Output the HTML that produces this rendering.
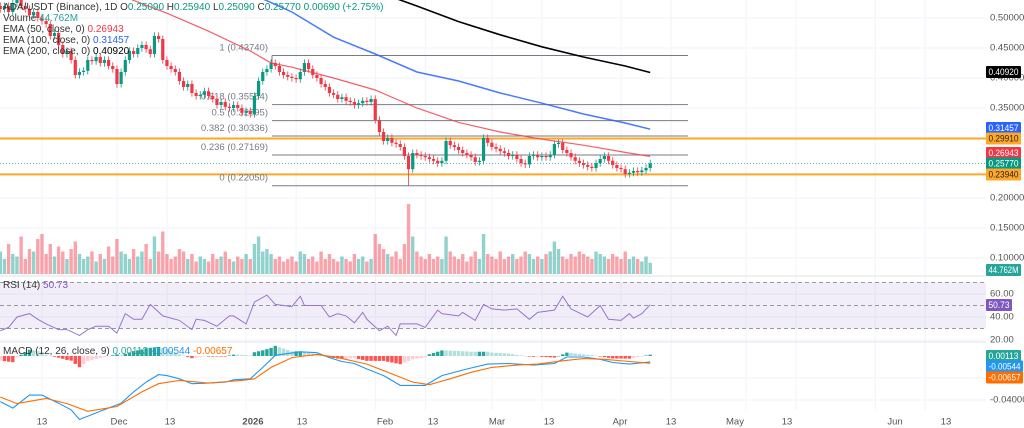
<!DOCTYPE html>
<html><head><meta charset="utf-8">
<style>
html,body{margin:0;padding:0;background:#fff;}
svg{display:block;font-family:"Liberation Sans",sans-serif;}
</style></head>
<body>
<svg id="c" width="1024" height="428" viewBox="0 0 1024 428" xmlns="http://www.w3.org/2000/svg"></svg>
<script>
const closes=[0.515,0.52,0.51,0.525,0.53,0.52,0.515,0.505,0.51,0.50,
0.495,0.49,0.47,0.475,0.455,0.44,0.445,0.43,0.405,0.41,
0.412,0.43,0.428,0.435,0.425,0.43,0.42,0.415,0.39,0.41,
0.43,0.445,0.44,0.45,0.455,0.448,0.44,0.47,0.465,0.43,
0.42,0.415,0.41,0.395,0.385,0.39,0.375,0.37,0.372,0.378,
0.37,0.365,0.355,0.36,0.352,0.35,0.355,0.35,0.342,0.345,
0.34,0.37,0.395,0.41,0.415,0.425,0.42,0.41,0.405,0.402,
0.40,0.398,0.41,0.425,0.415,0.405,0.40,0.39,0.385,0.375,
0.372,0.365,0.368,0.362,0.36,0.355,0.358,0.362,0.36,0.365,
0.33,0.31,0.295,0.30,0.292,0.29,0.285,0.27,0.248,0.275,
0.272,0.27,0.268,0.265,0.262,0.258,0.262,0.295,0.288,0.285,
0.28,0.275,0.272,0.268,0.26,0.262,0.30,0.292,0.285,0.282,
0.278,0.275,0.27,0.272,0.265,0.258,0.256,0.27,0.272,0.268,
0.27,0.268,0.272,0.29,0.292,0.28,0.275,0.268,0.262,0.258,
0.255,0.252,0.25,0.258,0.265,0.27,0.262,0.255,0.25,0.248,
0.24,0.242,0.245,0.243,0.246,0.25,0.2577];
const lows98=0.2205;
const volumes=[90,60,120,80,70,150,60,100,90,140,
160,80,120,70,110,90,60,100,130,80,
60,70,90,50,80,60,110,70,140,90,
80,60,100,70,90,120,60,150,90,170,
80,60,70,100,90,60,80,50,70,60,
50,80,60,70,90,60,50,70,60,80,
60,120,150,90,100,80,60,70,50,60,
70,50,90,80,60,70,50,90,60,80,
60,50,70,60,50,80,60,70,50,60,
160,120,100,80,70,90,60,120,280,150,
90,70,60,80,60,70,60,150,90,70,
60,80,50,70,90,60,160,80,70,60,
90,60,70,80,60,70,90,80,60,70,
60,80,90,130,100,70,60,80,70,90,
80,70,60,90,80,70,60,80,70,60,
90,60,70,60,50,70,45];
const emaIdx50=[28,40,50,60,65,70,80,90,100,110,120,130,140,150,156];
const ema50=[0.54,0.508,0.478,0.445,0.425,0.418,0.40,0.38,0.35,0.326,0.31,0.298,0.288,0.276,0.2694];
const emaIdx100=[62,70,80,90,100,110,120,130,140,150,156];
const ema100=[0.535,0.51,0.468,0.44,0.41,0.395,0.375,0.358,0.34,0.325,0.3146];
const emaIdx200=[94,100,110,120,130,140,150,156];
const ema200=[0.535,0.52,0.494,0.472,0.452,0.435,0.42,0.4092];
const fibLevels=[1,0.618,0.5,0.382,0.236,0];
const fibPrices=[0.4374,0.35554,0.32895,0.30336,0.27169,0.2205];
const rsiIdx=[0,2,4,7,9,11,14,16,19,21,23,26,28,30,32,34,36,39,43,46,47,49,52,55,56,59,61,64,66,70,72,73,77,79,81,83,85,87,88,91,93,95,96,100,102,105,106,110,111,114,116,118,121,124,127,129,133,135,137,141,144,146,149,151,152,154,156];
const rsiVal=[28,31,40,43,38,34,29,29,24,29,32,32,26,43,38,38,51,41,37,29,38,37,32,41,41,34,53,59,51,49,58,50,50,40,43,41,35,44,38,28,32,24,34,34,31,46,43,41,44,37,51,47,46,47,38,44,46,58,47,40,50,38,37,43,39,43,50.73];
const macdIdx=[0,3,7,10,14,17,19,24,29,32,35,38,40,43,46,50,54,56,60,63,66,72,76,79,82,85,88,92,94,96,102,106,112,117,122,128,133,136,140,144,147,151,156];
const macdVal=[-0.0415,-0.0474,-0.0355,-0.0355,-0.0429,-0.0489,-0.0577,-0.0503,-0.0429,-0.0326,-0.0237,-0.0169,-0.0178,-0.0207,-0.0252,-0.0246,-0.0237,-0.0216,-0.0207,-0.0104,0.0006,0.0038,0.003,-0.0015,-0.005,-0.0068,-0.0118,-0.0178,-0.0222,-0.0267,-0.0267,-0.0178,-0.0118,-0.0074,-0.0068,-0.0083,-0.0068,-0.0009,-0.0009,-0.003,-0.0059,-0.0074,-0.0054];
const sigIdx=[0,4,11,16,21,28,34,38,43,50,58,61,65,70,76,81,88,94,99,103,108,113,118,124,129,135,140,145,151,156];
const sigVal=[-0.0373,-0.0433,-0.0385,-0.0433,-0.0503,-0.0459,-0.0326,-0.0252,-0.0222,-0.0246,-0.0222,-0.0207,-0.0104,-0.0015,0.0015,-0.0015,-0.0074,-0.0163,-0.0237,-0.0261,-0.0207,-0.0148,-0.0104,-0.0083,-0.0074,-0.0044,-0.0024,-0.003,-0.0050,-0.0066];
const priceTicks=["0.50000","0.45000","0.40000","0.35000","0.20000","0.15000","0.10000"];
const priceTickVals=[0.5,0.45,0.40,0.35,0.20,0.15,0.10];
const timeLabels=["13","Dec","13","2026","13","Feb","13","Mar","13","Apr","13","May","13","Jun","13"];
const timeDays=[0,18,30,49,61,80,92,108,120,139,151,169,181,200,212];

const S=document.getElementById('c');
const NS='http://www.w3.org/2000/svg';
function el(t,a,p){const e=document.createElementNS(NS,t);for(const k in a)e.setAttribute(k,a[k]);(p||S).appendChild(e);return e;}
const PW=986;
const xI=i=>0.3+i*4.166;
const xD=d=>42+d*4.166;
const yP=p=>18+(0.5-p)*600;
const yR=r=>305.5-(r-50)*1.15;
const yM=m=>356-m*1100;
const interp=(idx,val,i)=>{for(let k=0;k<idx.length-1;k++){if(i>=idx[k]&&i<=idx[k+1]){const t=(i-idx[k])/(idx[k+1]-idx[k]);return val[k]+t*(val[k+1]-val[k]);}}return null;};

const g=el('g',{});


timeDays.forEach(d=>{el('line',{x1:xD(d),x2:xD(d),y1:0,y2:410,stroke:'#f0f3fa'},g);});
priceTickVals.forEach(v=>{el('line',{x1:0,x2:PW,y1:yP(v),y2:yP(v),stroke:'#f0f3fa'},g);});
[294,317,340].forEach(y=>el('line',{x1:0,x2:PW,y1:y,y2:y,stroke:'#f0f3fa'},g));
[400,378].forEach(y=>el('line',{x1:0,x2:PW,y1:y,y2:y,stroke:'#f0f3fa'},g));
el('line',{x1:0,x2:1024,y1:276,y2:276,stroke:'#e0e3eb'});
el('line',{x1:0,x2:1024,y1:342,y2:342,stroke:'#e0e3eb'});

const vg=el('g',{});


closes.forEach((c,i)=>{const up=i==0||c>=closes[i-1];const h=volumes[i]*0.25;
const r=el('rect',{x:xI(i)-1.7,y:274-h,width:3.4,height:h,fill:up?'rgba(38,166,154,0.5)':'rgba(242,54,69,0.45)'},vg);
});

[0.2991,0.2394].forEach(p=>{const l=el('line',{x1:0,x2:PW,y1:yP(p),y2:yP(p),stroke:'#ffa726','stroke-width':2});
});
const cl=el('line',{x1:0,x2:PW,y1:yP(0.2577),y2:yP(0.2577),stroke:'#26a69a','stroke-dasharray':'1 2','stroke-width':0.8});


const fg=el('g',{});


el('line',{x1:272,x2:272,y1:yP(0.4374),y2:yP(0.42),stroke:'#787b86'},fg);
fibLevels.forEach((lv,k)=>{const y=yP(fibPrices[k]);
el('line',{x1:272,x2:688,y1:y,y2:y,stroke:'#787b86','stroke-width':1},fg);
const t=el('text',{x:268,y:y-5,'text-anchor':'end','font-size':'9.5',fill:'#787b86'},fg);
t.textContent=lv+' ('+fibPrices[k].toFixed(5)+')';
});

const cg=el('g',{});


closes.forEach((c,i)=>{const o=i==0?c+0.005:closes[i-1];const up=c>=o;const col=up?'#089981':'#f23645';
const x=xI(i);const hi=Math.max(o,c)+0.006;let lo=Math.min(o,c)-0.006;if(i==98)lo=lows98;
el('line',{x1:x,x2:x,y1:yP(hi),y2:yP(lo),stroke:col,'stroke-width':0.8},cg);
const top=yP(Math.max(o,c)),h=Math.max(1,Math.abs(yP(o)-yP(c)));
const r=el('rect',{x:x-1.6,y:top,width:3.2,height:h,fill:col},cg);
});

function poly(idx,val,fx,fy,col,name,w){const pts=idx.map((i,k)=>fx(i).toFixed(1)+','+fy(val[k]).toFixed(1)).join(' ');
const p=el('polyline',{points:pts,fill:'none',stroke:col,'stroke-width':w||1.3});
return p;}
poly(emaIdx50,ema50,xI,yP,'#f23645','ema-50-line',1.2).setAttribute('stroke-opacity','0.8');
poly(emaIdx100,ema100,xI,yP,'#2962ff','ema-100-line',1.5).setAttribute('stroke-opacity','0.85');
poly(emaIdx200,ema200,xI,yP,'#000000','ema-200-line',1.6);

const rb=el('rect',{x:0,y:yR(70),width:PW,height:yR(30)-yR(70),fill:'rgba(126,87,194,0.1)'});

[70,50,30].forEach(v=>el('line',{x1:0,x2:PW,y1:yR(v),y2:yR(v),stroke:'#787b86','stroke-dasharray':'4 3','stroke-width':0.8}));
poly(rsiIdx,rsiVal,xI,yR,'#9575cd','rsi-line',1);

const hg=el('g',{});


let prev=null;
for(let i=0;i<=156;i++){const hh=interp(macdIdx,macdVal,i)-interp(sigIdx,sigVal,i);
let col;if(hh>=0)col=(prev!==null&&hh<prev)?'#b2dfdb':'#26a69a';else col=(prev!==null&&hh<prev)?'#ff5252':'#ffcdd2';
const y0=yM(0),y1=yM(hh);
const r=el('rect',{x:xI(i)-1.7,y:Math.min(y0,y1),width:3.4,height:Math.max(0.5,Math.abs(y1-y0)),fill:col},hg);
prev=hh;}
poly(macdIdx,macdVal,xI,yM,'#2196f3','macd-line',1.1);
poly(sigIdx,sigVal,xI,yM,'#ff6d00','signal-line',1.1);

el('rect',{x:PW,y:0,width:1024-PW,height:428,fill:'#fff'});

function txt(x,y,s,o){const t=el('text',Object.assign({x:x,y:y,'font-size':'9.5',fill:'#555','dominant-baseline':'middle'},o||{}));t.textContent=s;return t;}
priceTickVals.forEach((v,k)=>{const t=txt(990,yP(v),priceTicks[k]);});
[['60.00',294],['40.00',317],['20.00',340],['-0.04000',400]].forEach(a=>{const t=txt(990,a[1],a[0]);});
function badge(y,s,bg,fg,name){const w=s.length>7?37:(s.length>5?35:26);
const r=el('rect',{x:986,y:y-6,width:w,height:12,fill:bg,rx:1});

const t=txt(988.5,y+0.5,s,{fill:fg,'font-size':'9',textLength:w-5,lengthAdjust:'spacingAndGlyphs'});}
badge(72,'0.40920','#000','#fff','ema200-badge');
badge(128,'0.31457','#2962ff','#fff','ema100-badge');
badge(138.5,'0.29910','#ffa726','#222','resistance-badge');
badge(153,'0.26943','#f23645','#fff','ema50-badge');
badge(163.5,'0.25770','#089981','#fff','price-badge');
badge(174.5,'0.23940','#ffa726','#222','support-badge');
badge(270,'44.762M','#26a69a','#fff','volume-badge');
badge(305,'50.73','#7e57c2','#fff','rsi-badge');
badge(356,'0.00113','#26a69a','#fff','macd-hist-badge');
badge(366.5,'-0.00544','#2196f3','#fff','macd-badge');
badge(377.5,'-0.00657','#ff6d00','#fff','signal-badge');

timeLabels.forEach((s,k)=>{const xs=[42,119,170,253,302,385,433,497,549,620,671,735,787,895,946];
const t=txt(xs[k],422,s,{'text-anchor':'middle','font-weight':s=='2026'?'bold':'normal'});
});

function leg(y,parts,name){const t=el('text',{x:3,y:y,'font-size':'10','dominant-baseline':'middle'});

parts.forEach(p=>{const s=el('tspan',{fill:p[1]},t);s.textContent=p[0];});}
leg(7,[['ADA/USDT (Binance), 1D  ','#333'],['O','#333'],['0.25090 ','#089981'],['H','#333'],['0.25940 ','#089981'],['L','#333'],['0.25090 ','#089981'],['C','#333'],['0.25770 0.00690 (+2.75%)','#089981']],'symbol-legend');
leg(18,[['Volume  ','#333'],['44.762M','#26a69a']],'volume-legend');
leg(29,[['EMA (50, close, 0)  ','#333'],['0.26943','#f23645']],'ema50-legend');
leg(40,[['EMA (100, close, 0)  ','#333'],['0.31457','#2962ff']],'ema100-legend');
leg(51,[['EMA (200, close, 0)  ','#333'],['0.40920','#000']],'ema200-legend');
leg(285,[['RSI (14)  ','#333'],['50.73','#7e57c2']],'rsi-legend');
leg(351,[['MACD (12, 26, close, 9)  ','#333'],['0.00113  ','#26a69a'],['-0.00544  ','#2196f3'],['-0.00657','#ff6d00']],'macd-legend');
</script>
</body></html>
